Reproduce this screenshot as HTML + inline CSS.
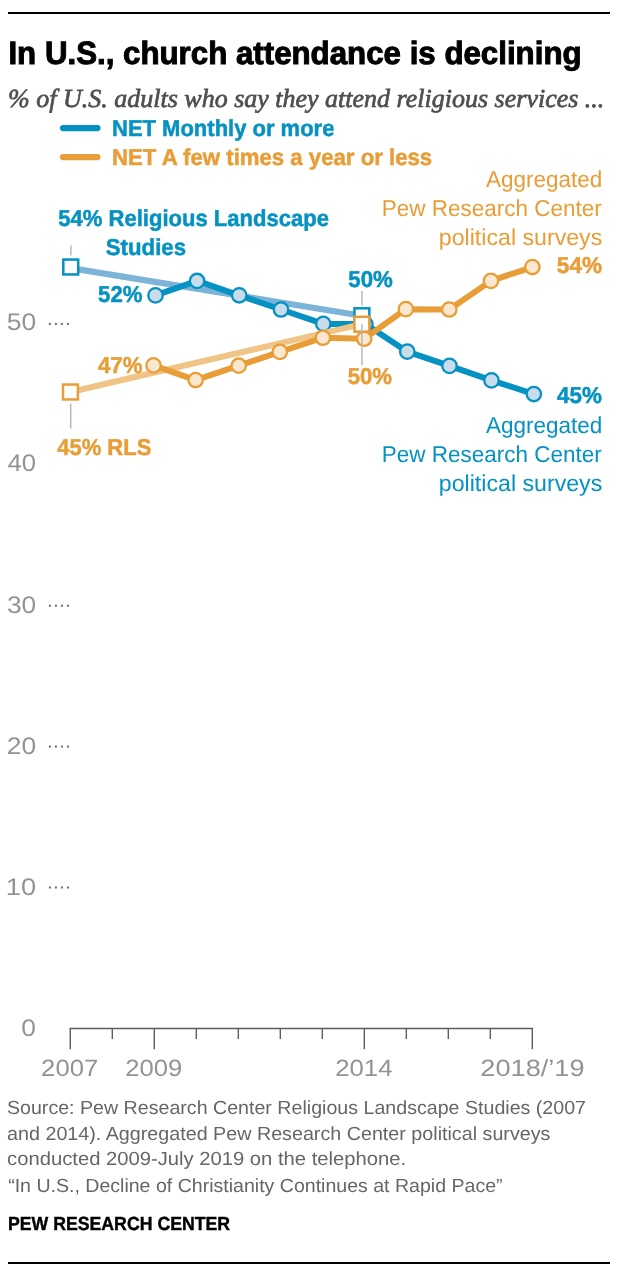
<!DOCTYPE html>
<html><head><meta charset="utf-8"><style>
html,body{margin:0;padding:0;background:#fff;}
svg{display:block;will-change:transform;}
</style></head><body>
<svg width="638" height="1274" viewBox="0 0 638 1274" text-rendering="geometricPrecision">
<rect width="638" height="1274" fill="#fff"/>
<rect x="8" y="12" width="602" height="2" fill="#000"/>
<rect x="8" y="1262" width="602" height="2" fill="#000"/>
<line x1="63" y1="128.1" x2="97.5" y2="128.1" stroke="#0592c2" stroke-width="6.2" stroke-linecap="round"/>
<line x1="63" y1="157.1" x2="97.5" y2="157.1" stroke="#e99d37" stroke-width="6.2" stroke-linecap="round"/>
<rect x="48.90" y="322.90" width="2" height="2" fill="#6a6a6a"/>
<rect x="54.90" y="322.90" width="2" height="2" fill="#6a6a6a"/>
<rect x="60.90" y="322.90" width="2" height="2" fill="#6a6a6a"/>
<rect x="66.90" y="322.90" width="2" height="2" fill="#6a6a6a"/>
<rect x="48.90" y="604.70" width="2" height="2" fill="#6a6a6a"/>
<rect x="54.90" y="604.70" width="2" height="2" fill="#6a6a6a"/>
<rect x="60.90" y="604.70" width="2" height="2" fill="#6a6a6a"/>
<rect x="66.90" y="604.70" width="2" height="2" fill="#6a6a6a"/>
<rect x="48.90" y="745.60" width="2" height="2" fill="#6a6a6a"/>
<rect x="54.90" y="745.60" width="2" height="2" fill="#6a6a6a"/>
<rect x="60.90" y="745.60" width="2" height="2" fill="#6a6a6a"/>
<rect x="66.90" y="745.60" width="2" height="2" fill="#6a6a6a"/>
<rect x="48.90" y="886.50" width="2" height="2" fill="#6a6a6a"/>
<rect x="54.90" y="886.50" width="2" height="2" fill="#6a6a6a"/>
<rect x="60.90" y="886.50" width="2" height="2" fill="#6a6a6a"/>
<rect x="66.90" y="886.50" width="2" height="2" fill="#6a6a6a"/>
<line x1="69.8" y1="1028.5" x2="533.2" y2="1028.5" stroke="#5c5c5c" stroke-width="1.4"/>
<line x1="70.30" y1="1028" x2="70.30" y2="1049.2" stroke="#5c5c5c" stroke-width="1.4"/>
<line x1="112.30" y1="1028" x2="112.30" y2="1039" stroke="#5c5c5c" stroke-width="1.4"/>
<line x1="154.30" y1="1028" x2="154.30" y2="1049.2" stroke="#5c5c5c" stroke-width="1.4"/>
<line x1="196.30" y1="1028" x2="196.30" y2="1039" stroke="#5c5c5c" stroke-width="1.4"/>
<line x1="238.30" y1="1028" x2="238.30" y2="1039" stroke="#5c5c5c" stroke-width="1.4"/>
<line x1="280.30" y1="1028" x2="280.30" y2="1039" stroke="#5c5c5c" stroke-width="1.4"/>
<line x1="322.30" y1="1028" x2="322.30" y2="1039" stroke="#5c5c5c" stroke-width="1.4"/>
<line x1="364.30" y1="1028" x2="364.30" y2="1049.2" stroke="#5c5c5c" stroke-width="1.4"/>
<line x1="406.30" y1="1028" x2="406.30" y2="1039" stroke="#5c5c5c" stroke-width="1.4"/>
<line x1="448.30" y1="1028" x2="448.30" y2="1039" stroke="#5c5c5c" stroke-width="1.4"/>
<line x1="490.30" y1="1028" x2="490.30" y2="1039" stroke="#5c5c5c" stroke-width="1.4"/>
<line x1="532.30" y1="1028" x2="532.30" y2="1049.2" stroke="#5c5c5c" stroke-width="1.4"/>
<path d="M70.75,268.10 L361.90,315.75" fill="none" stroke="#7cb4d8" stroke-width="6.2" stroke-linejoin="round" stroke-linecap="butt"/>
<path d="M155.50,295.40 L197.10,280.95 L239.20,295.30 L281.00,309.50 L323.30,323.90 L365.40,324.10 L407.30,351.65 L449.50,365.90 L491.50,380.40 L533.85,394.05" fill="none" stroke="#0592c2" stroke-width="6.0" stroke-linejoin="round" stroke-linecap="butt"/>
<circle cx="155.50" cy="295.40" r="7.2" fill="#c8dcec" stroke="#0592c2" stroke-width="2.3"/>
<circle cx="197.10" cy="280.95" r="7.2" fill="#c8dcec" stroke="#0592c2" stroke-width="2.3"/>
<circle cx="239.20" cy="295.30" r="7.2" fill="#c8dcec" stroke="#0592c2" stroke-width="2.3"/>
<circle cx="281.00" cy="309.50" r="7.2" fill="#c8dcec" stroke="#0592c2" stroke-width="2.3"/>
<circle cx="323.30" cy="323.90" r="7.2" fill="#c8dcec" stroke="#0592c2" stroke-width="2.3"/>
<circle cx="365.40" cy="324.10" r="7.2" fill="#c8dcec" stroke="#0592c2" stroke-width="2.3"/>
<circle cx="407.30" cy="351.65" r="7.2" fill="#c8dcec" stroke="#0592c2" stroke-width="2.3"/>
<circle cx="449.50" cy="365.90" r="7.2" fill="#c8dcec" stroke="#0592c2" stroke-width="2.3"/>
<circle cx="491.50" cy="380.40" r="7.2" fill="#c8dcec" stroke="#0592c2" stroke-width="2.3"/>
<circle cx="533.85" cy="394.05" r="7.2" fill="#c8dcec" stroke="#0592c2" stroke-width="2.3"/>
<path d="M70.45,392.00 L361.90,324.20" fill="none" stroke="#f0c485" stroke-width="6.0" stroke-linejoin="round" stroke-linecap="butt"/>
<path d="M153.50,365.40 L195.65,380.05 L238.70,365.70 L279.85,351.90 L322.90,337.75 L364.20,338.75 L405.85,309.15 L449.30,309.50 L490.95,280.90 L532.40,267.05" fill="none" stroke="#e99d37" stroke-width="6.0" stroke-linejoin="round" stroke-linecap="butt"/>
<circle cx="153.50" cy="365.40" r="7.2" fill="#f9e7d0" stroke="#e99d37" stroke-width="2.3"/>
<circle cx="195.65" cy="380.05" r="7.2" fill="#f9e7d0" stroke="#e99d37" stroke-width="2.3"/>
<circle cx="238.70" cy="365.70" r="7.2" fill="#f9e7d0" stroke="#e99d37" stroke-width="2.3"/>
<circle cx="279.85" cy="351.90" r="7.2" fill="#f9e7d0" stroke="#e99d37" stroke-width="2.3"/>
<circle cx="322.90" cy="337.75" r="7.2" fill="#f9e7d0" stroke="#e99d37" stroke-width="2.3"/>
<circle cx="364.20" cy="338.75" r="7.2" fill="#f9e7d0" stroke="#e99d37" stroke-width="2.3"/>
<circle cx="405.85" cy="309.15" r="7.2" fill="#f9e7d0" stroke="#e99d37" stroke-width="2.3"/>
<circle cx="449.30" cy="309.50" r="7.2" fill="#f9e7d0" stroke="#e99d37" stroke-width="2.3"/>
<circle cx="490.95" cy="280.90" r="7.2" fill="#f9e7d0" stroke="#e99d37" stroke-width="2.3"/>
<circle cx="532.40" cy="267.05" r="7.2" fill="#f9e7d0" stroke="#e99d37" stroke-width="2.3"/>
<rect x="63.30" y="259.55" width="14.9" height="14.9" fill="#fff" stroke="#0592c2" stroke-width="2.5"/>
<rect x="63.00" y="384.55" width="14.9" height="14.9" fill="#fff" stroke="#e99d37" stroke-width="2.5"/>
<rect x="354.45" y="308.30" width="14.9" height="14.9" fill="#fff" stroke="#0592c2" stroke-width="2.5"/>
<rect x="354.45" y="316.75" width="14.9" height="14.9" fill="#fff" stroke="#e99d37" stroke-width="2.5"/>
<line x1="70.8" y1="245.6" x2="70.8" y2="255.5" stroke="#b8b8b8" stroke-width="1.5"/>
<line x1="70.7" y1="403.7" x2="70.7" y2="428.6" stroke="#b8b8b8" stroke-width="1.5"/>
<line x1="361.95" y1="291.1" x2="361.95" y2="305.2" stroke="#b8b8b8" stroke-width="1.5"/>
<line x1="361.95" y1="324.2" x2="361.95" y2="365.3" stroke="#b8b8b8" stroke-width="1.5"/>
<text transform="translate(8.42,64.00) scale(0.9711,1)" font-family="Liberation Sans" font-weight="bold" font-style="normal" font-size="32.2" fill="#000000" stroke="#000000" stroke-width="1.0">In U.S., church attendance is declining</text>
<text transform="translate(8.05,107.00) scale(1.0001,1)" font-family="Liberation Serif" font-weight="normal" font-style="italic" font-size="26.0" fill="#4f4f4f" stroke="#4f4f4f" stroke-width="0.7">% of U.S. adults who say they attend religious services ...</text>
<text transform="translate(112.04,136.00) scale(0.9560,1)" font-family="Liberation Sans" font-weight="bold" font-style="normal" font-size="23.0" fill="#0592c2" stroke="#0592c2" stroke-width="0.5">NET Monthly or more</text>
<text transform="translate(112.03,165.00) scale(0.9645,1)" font-family="Liberation Sans" font-weight="bold" font-style="normal" font-size="23.0" fill="#e99d37" stroke="#e99d37" stroke-width="0.5">NET A few times a year or less</text>
<text transform="translate(58.26,226.00) scale(0.9584,1)" font-family="Liberation Sans" font-weight="bold" font-style="normal" font-size="23.0" fill="#0592c2" stroke="#0592c2" stroke-width="0.5">54% Religious Landscape</text>
<text transform="translate(105.77,255.00) scale(0.9659,1)" font-family="Liberation Sans" font-weight="bold" font-style="normal" font-size="23.0" fill="#0592c2" stroke="#0592c2" stroke-width="0.5">Studies</text>
<text transform="translate(98.06,302.00) scale(0.9650,1)" font-family="Liberation Sans" font-weight="bold" font-style="normal" font-size="23.0" fill="#0592c2" stroke="#0592c2" stroke-width="0.5">52%</text>
<text transform="translate(97.98,373.00) scale(0.9644,1)" font-family="Liberation Sans" font-weight="bold" font-style="normal" font-size="23.0" fill="#e99d37" stroke="#e99d37" stroke-width="0.5">47%</text>
<text transform="translate(57.29,455.00) scale(0.9551,1)" font-family="Liberation Sans" font-weight="bold" font-style="normal" font-size="23.0" fill="#e99d37" stroke="#e99d37" stroke-width="0.5">45% RLS</text>
<text transform="translate(348.26,287.00) scale(0.9672,1)" font-family="Liberation Sans" font-weight="bold" font-style="normal" font-size="23.0" fill="#0592c2" stroke="#0592c2" stroke-width="0.5">50%</text>
<text transform="translate(347.66,384.00) scale(0.9650,1)" font-family="Liberation Sans" font-weight="bold" font-style="normal" font-size="23.0" fill="#e99d37" stroke="#e99d37" stroke-width="0.5">50%</text>
<text transform="translate(556.85,273.00) scale(0.9805,1)" font-family="Liberation Sans" font-weight="bold" font-style="normal" font-size="23.0" fill="#e99d37" stroke="#e99d37" stroke-width="0.5">54%</text>
<text transform="translate(557.08,403.00) scale(0.9732,1)" font-family="Liberation Sans" font-weight="bold" font-style="normal" font-size="23.0" fill="#0592c2" stroke="#0592c2" stroke-width="0.5">45%</text>
<text transform="translate(485.89,186.60) scale(0.9787,1)" font-family="Liberation Sans" font-weight="normal" font-style="normal" font-size="23.0" fill="#e99d37">Aggregated</text>
<text transform="translate(381.86,215.60) scale(0.9774,1)" font-family="Liberation Sans" font-weight="normal" font-style="normal" font-size="23.0" fill="#e99d37">Pew Research Center</text>
<text transform="translate(438.82,244.60) scale(1.0068,1)" font-family="Liberation Sans" font-weight="normal" font-style="normal" font-size="23.0" fill="#e99d37">political surveys</text>
<text transform="translate(485.89,432.50) scale(0.9787,1)" font-family="Liberation Sans" font-weight="normal" font-style="normal" font-size="23.0" fill="#0592c2">Aggregated</text>
<text transform="translate(381.86,461.80) scale(0.9774,1)" font-family="Liberation Sans" font-weight="normal" font-style="normal" font-size="23.0" fill="#0592c2">Pew Research Center</text>
<text transform="translate(438.82,490.80) scale(1.0068,1)" font-family="Liberation Sans" font-weight="normal" font-style="normal" font-size="23.0" fill="#0592c2">political surveys</text>
<text transform="translate(6.77,330.40) scale(1.1025,1)" font-family="Liberation Sans" font-weight="normal" font-style="normal" font-size="24.0" fill="#939393">50</text>
<text transform="translate(7.58,471.00) scale(1.0708,1)" font-family="Liberation Sans" font-weight="normal" font-style="normal" font-size="24.0" fill="#939393">40</text>
<text transform="translate(6.89,612.60) scale(1.0977,1)" font-family="Liberation Sans" font-weight="normal" font-style="normal" font-size="24.0" fill="#939393">30</text>
<text transform="translate(6.78,753.50) scale(1.1019,1)" font-family="Liberation Sans" font-weight="normal" font-style="normal" font-size="24.0" fill="#939393">20</text>
<text transform="translate(5.86,894.80) scale(1.1378,1)" font-family="Liberation Sans" font-weight="normal" font-style="normal" font-size="24.0" fill="#939393">10</text>
<text transform="translate(21.37,1035.70) scale(1.1007,1)" font-family="Liberation Sans" font-weight="normal" font-style="normal" font-size="24.0" fill="#939393">0</text>
<text transform="translate(41.12,1075.50) scale(1.0918,1)" font-family="Liberation Sans" font-weight="normal" font-style="normal" font-size="23.5" fill="#939393">2007</text>
<text transform="translate(125.22,1075.50) scale(1.0908,1)" font-family="Liberation Sans" font-weight="normal" font-style="normal" font-size="23.5" fill="#939393">2009</text>
<text transform="translate(335.21,1075.50) scale(1.0966,1)" font-family="Liberation Sans" font-weight="normal" font-style="normal" font-size="23.5" fill="#939393">2014</text>
<text transform="translate(480.34,1075.50) scale(1.1561,1)" font-family="Liberation Sans" font-weight="normal" font-style="normal" font-size="23.5" fill="#939393">2018/’19</text>
<text transform="translate(6.94,1113.80) scale(1.0325,1)" font-family="Liberation Sans" font-weight="normal" font-style="normal" font-size="19.0" fill="#666666">Source: Pew Research Center Religious Landscape Studies (2007</text>
<text transform="translate(7.09,1139.70) scale(1.0372,1)" font-family="Liberation Sans" font-weight="normal" font-style="normal" font-size="19.0" fill="#666666">and 2014). Aggregated Pew Research Center political surveys</text>
<text transform="translate(7.08,1165.20) scale(1.0641,1)" font-family="Liberation Sans" font-weight="normal" font-style="normal" font-size="19.0" fill="#666666">conducted 2009-July 2019 on the telephone.</text>
<text transform="translate(8.17,1191.50) scale(1.0289,1)" font-family="Liberation Sans" font-weight="normal" font-style="normal" font-size="19.0" fill="#666666">“In U.S., Decline of Christianity Continues at Rapid Pace”</text>
<text transform="translate(7.89,1229.50) scale(0.9316,1)" font-family="Liberation Sans" font-weight="bold" font-style="normal" font-size="19.0" fill="#000000" stroke="#000000" stroke-width="0.4">PEW RESEARCH CENTER</text>
</svg>
</body></html>
